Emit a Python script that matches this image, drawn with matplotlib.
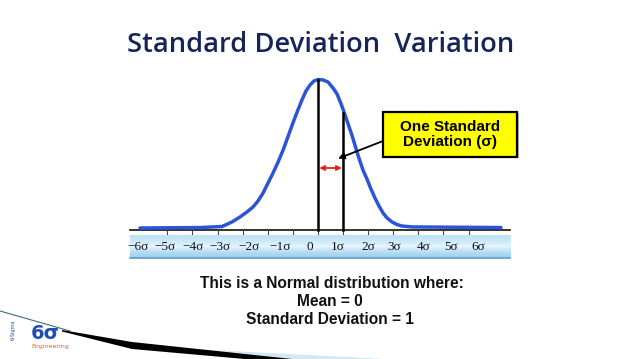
import numpy as np
import matplotlib
matplotlib.use("Agg")
from matplotlib import pyplot as plt
from matplotlib.patches import Rectangle, Polygon, FancyArrowPatch

# Curve (x in sigma units, y as share of peak height)
CURVE_X = [-7.09, -4.70, -3.82, -3.43, -3.11, -2.83, -2.59, -2.39, -2.19, -1.99,
           -1.79, -1.59, -1.39, -1.20, -1.00, -0.80, -0.64, -0.48, -0.32, -0.16,
           0.00, 0.20, 0.40, 0.60, 0.76, 0.92, 1.08, 1.20, 1.35, 1.59,
           1.79, 1.95, 2.11, 2.27, 2.43, 2.59, 2.75, 2.95, 3.15, 3.35,
           3.75, 7.29]
CURVE_Y = [0.010, 0.013, 0.020, 0.050, 0.083, 0.117, 0.150, 0.190, 0.243, 0.310,
           0.377, 0.450, 0.530, 0.617, 0.710, 0.797, 0.863, 0.923, 0.963, 0.990,
           1.000, 0.997, 0.983, 0.943, 0.903, 0.837, 0.763, 0.703, 0.630, 0.497,
           0.397, 0.337, 0.270, 0.210, 0.157, 0.110, 0.077, 0.050, 0.033, 0.023,
           0.017, 0.013]

TICKS = [-6, -5, -4, -3, -2, -1, 0, 1, 2, 3, 4, 5, 6]
TICK_LABELS = ["\u22126\u03c3", "\u22125\u03c3", "\u22124\u03c3", "\u22123\u03c3",
               "\u22122\u03c3", "\u22121\u03c3", "0", "1\u03c3", "2\u03c3",
               "3\u03c3", "4\u03c3", "5\u03c3", "6\u03c3"]
# labels in the picture do not sit exactly on their ticks
LABEL_POS = [-7.17, -6.10, -4.98, -3.90, -2.75, -1.51, -0.32, 0.80, 1.99,
             3.03, 4.22, 5.30, 6.37]

MEAN = 0
SIGMA = 1
SIGMA_LINE_TOP = 0.777

BLUE = "#2b55d6"
NAVY = "#17245a"

fig = plt.figure(figsize=(6.38, 3.59), dpi=100)
fig.patch.set_facecolor("white")

# full-figure axes, scaled so 1 sigma ~ 25 px
ax = fig.add_axes([0, 0, 1, 1])
ax.axis("off")
xlim = (-318 / 25.1, 320 / 25.1)
ylim = ((229.5 - 359) / 150, 229.5 / 150)

# label strip with a soft blue gradient
grad = np.array([[0.0], [0.5], [1.0]])
cmap = matplotlib.colors.LinearSegmentedColormap.from_list(
    "strip", ["#bfe2f6", "#e6f5fd", "#9ed2f1"])
ax.imshow(grad, extent=[-7.49, 7.65, -0.19, -0.037], aspect="auto",
          cmap=cmap, interpolation="bicubic", zorder=0)
ax.plot([-7.49, 7.65], [-0.19, -0.19], color="#5b9ccc", lw=1.2, zorder=1)

# baseline and ticks
ax.plot([-7.49, 7.65], [0, 0], color="#111111", lw=1.2, zorder=2)
for t in TICKS:
    ax.plot([t, t], [0, -0.03], color="#444444", lw=0.8, zorder=2)
for pos, lab in zip(LABEL_POS, TICK_LABELS):
    ax.text(pos, -0.117, lab, ha="center", va="center", fontsize=9.5,
            family="Liberation Serif", color="#111111", zorder=3)

# the normal curve
ax.plot(CURVE_X, CURVE_Y, color=BLUE, lw=2.5, solid_capstyle="round",
        solid_joinstyle="round", zorder=4)

# mean and 1 sigma lines
ax.plot([MEAN, MEAN], [0, max(CURVE_Y)], color="black", lw=1.8, zorder=5)
ax.plot([SIGMA, SIGMA], [0, SIGMA_LINE_TOP], color="black", lw=1.8, zorder=5)

# red double arrow between them
ax.add_patch(FancyArrowPatch((MEAN + 0.05, 0.41), (SIGMA - 0.05, 0.41),
                             arrowstyle="<|-|>", mutation_scale=7,
                             shrinkA=0, shrinkB=0,
                             color="#e8201c", lw=1.3, zorder=6))

# callout box
ax.add_patch(Rectangle((2.65, 0.475), 5.36, 0.30, facecolor="#bbbbbb",
                       edgecolor="none", zorder=6))
ax.add_patch(Rectangle((2.59, 0.483), 5.34, 0.30, facecolor="#ffff00",
                       edgecolor="black", lw=1.6, zorder=7))
ax.text(5.26, 0.633, "One Standard\nDeviation (\u03c3)", ha="center",
        va="center", fontsize=11, fontweight="bold", family="Liberation Sans",
        linespacing=1.05, zorder=8)
ax.add_patch(FancyArrowPatch((2.59, 0.59), (0.80, 0.473), arrowstyle="-|>",
                             mutation_scale=9, color="black", lw=1.3,
                             shrinkA=0, shrinkB=0, zorder=7))

ax.set_xlim(*xlim)
ax.set_ylim(*ylim)

# title
fig.text(0.502, 1 - 52 / 359, "Standard Deviation  Variation", ha="center",
         va="baseline", fontsize=19.6, color=NAVY, family="Open Sans",
         fontweight="semibold")

# caption
cap_font = dict(ha="center", va="center", fontsize=11.2, fontweight="bold",
                family="Liberation Sans", color="#111111")
fig.text(0.52, 1 - 283 / 359, "This is a Normal distribution where:", **cap_font)
fig.text(0.517, 1 - 302 / 359, "Mean = 0", **cap_font)
fig.text(0.517, 1 - 320 / 359, "Standard Deviation = 1", **cap_font)

# bottom-left swoosh decoration (figure pixels)
W, H = 638, 359
def px(points):
    return [(x / W, 1 - y / H) for x, y in points]

fig.patches.append(Polygon(px([(132, 346), (250, 352), (385, 359), (250, 359)]),
                           closed=True, facecolor="#d4e8f2", edgecolor="none",
                           transform=fig.transFigure, zorder=1))
fig.patches.append(Polygon(px([(62, 330), (132, 342), (292, 359), (245, 359),
                               (132, 349), (62, 331.5)]),
                           closed=True, facecolor="black", edgecolor="none",
                           transform=fig.transFigure, zorder=2))
fig.lines.append(plt.Line2D([0, 70 / W], [1 - 311 / H, 1 - 331 / H],
                            color="#3d6f80", lw=0.8, transform=fig.transFigure))

# logo
fig.text(45 / W, 1 - 339 / H, "6\u03c3", ha="center", va="baseline", fontsize=14,
         fontweight="bold", color="#1f4fb5", family="DejaVu Sans")
fig.text(50 / W, 1 - 346.5 / H, "Engineering", ha="center", va="center",
         fontsize=4.5, color="#e0602a", family="DejaVu Sans")
fig.text(13 / W, 1 - 330 / H, "6-Sigma", ha="center", va="center",
         fontsize=3.5, color="#1f4fb5", rotation=90, family="DejaVu Sans")

fig.savefig("out.png", dpi=100, facecolor="white")
